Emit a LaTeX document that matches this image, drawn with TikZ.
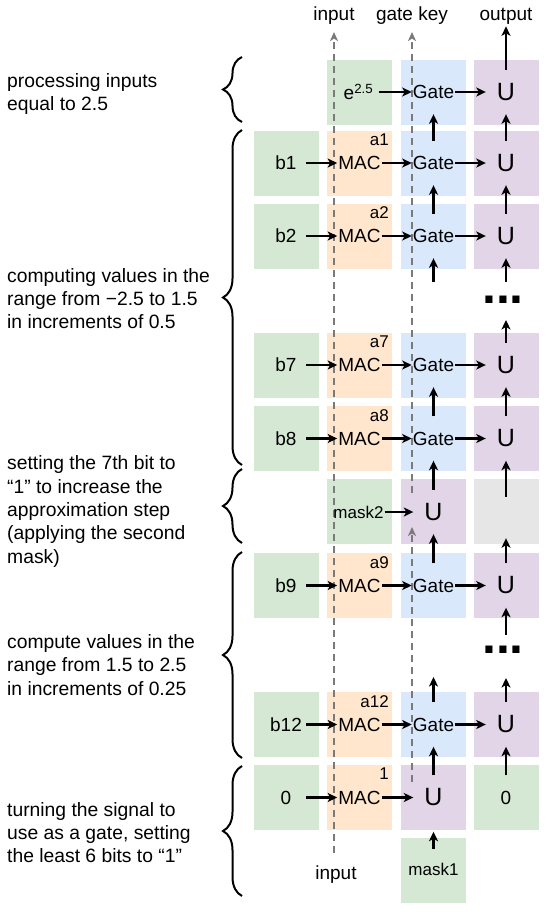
\documentclass[tikz,border=0pt]{standalone}
\usepackage{fontspec}
\setmainfont{Liberation Sans}
\usetikzlibrary{arrows.meta,calc,positioning,decorations.pathreplacing}
\definecolor{CellGreen}{HTML}{D5E8D4}
\definecolor{CellOrange}{HTML}{FFE6CC}
\definecolor{CellBlue}{HTML}{DAE8FC}
\definecolor{CellPurple}{HTML}{E1D5E7}
\definecolor{CellGray}{HTML}{E6E6E6}
\definecolor{KeyGray}{HTML}{7A7A7A}

\begin{document}
\begin{tikzpicture}[x=1pt,y=-1pt,>={Stealth[length=9.5pt,width=9pt,inset=2.5pt]},
  cell/.style={minimum width=65pt,minimum height=65pt,inner sep=0pt},
  txt/.style={minimum width=40pt,minimum height=44pt,inner sep=1pt,font=\fontsize{19}{23}\selectfont},
  ucup/.style={txt,font=\fontsize{25}{25}\selectfont},
  small/.style={inner sep=1pt,font=\fontsize{17}{20}\selectfont},
  idx/.style={small,anchor=north east},
  head/.style={inner sep=2pt,font=\fontsize{19}{23}\selectfont},
  note/.style={anchor=west,align=left,inner sep=0pt,font=\fontsize{19.3}{23.3}\selectfont},
  flow/.style={->,line width=2.2pt},
  keyline/.style={-{Stealth[length=9pt,width=8pt,inset=2.5pt]},KeyGray,line width=2pt,dash pattern=on 7pt off 5pt},
  brc/.style={decorate,decoration={brace,amplitude=19pt},line width=2pt}]
  \useasboundingbox (0,0) rectangle (550,914);

  % cells
  \foreach \n/\y in {1/163,2/236,7/365,8/438.5,9/585.5,12/724.5}{
    \node[cell,fill=CellGreen]  (bx\n) at (286,\y) {};
    \node[cell,fill=CellOrange] (mx\n) at (359.5,\y) {};
    \node[cell,fill=CellBlue]   (gx\n) at (433.5,\y) {};
    \node[cell,fill=CellPurple] (ux\n) at (506,\y) {};
  }
  \node[cell,fill=CellGreen]  (ex0) at (359.5,92) {};
  \node[cell,fill=CellBlue]   (gx0) at (433.5,92) {};
  \node[cell,fill=CellPurple] (ux0) at (506,92) {};
  \node[cell,fill=CellGreen]  (kx2) at (359.5,511.5) {};
  \node[cell,fill=CellPurple] (mux) at (433.5,511.5) {};
  \node[cell,fill=CellGray]   (grx) at (506,511.5) {};
  \node[cell,fill=CellGreen]  (zbx) at (286,797.5) {};
  \node[cell,fill=CellOrange] (zmx) at (359.5,797.5) {};
  \node[cell,fill=CellPurple] (zux) at (433.5,797.5) {};
  \node[cell,fill=CellGreen]  (zzx) at (506,797.5) {};
  \node[cell,fill=CellGreen]  (kx1) at (433.5,870.5) {};

  % headings and key lines
  \node[head] (input) at (334,16) {input};
  \node[head] (gatekey) at (412,16) {gate key};
  \node[head] (output) at (506,16) {output};
  \node[head] (inputB) at (336,875) {input};
  \coordinate (inBot) at (334,853);
  \coordinate (keyMid) at (412,493);
  \coordinate (keyLow) at (412,782);
  \coordinate (keyTip) at (412,527);
  \draw[keyline,shorten >=5pt] (inBot) -- (input);
  \draw[keyline,shorten >=5pt] (keyMid) -- (gatekey);
  \draw[keyline] (keyLow) -- (keyTip);

  % MAC rows
  \foreach \n/\y in {1/163,2/236,7/365,8/438.5,9/585.5,12/724.5}{
    \node[txt] (b\n) at (286,\y) {b\n};
    \node[txt] (mac\n) at (359.5,\y) {MAC};
    \node[txt] (gate\n) at (433.5,\y) {Gate};
    \node[ucup] (u\n) at (506,\y) {U};
    \node[idx] (a\n) at (390,\y-30.5) {a\n};
    \draw[flow] (b\n) -- (mac\n);
    \draw[flow] (mac\n) -- (gate\n);
    \draw[flow] (gate\n) -- (u\n);
  }

  % first row, e^2.5
  \node[txt] (e0) at (358.5,92) {e\textsuperscript{2.5}};
  \node[txt] (gate0) at (433.5,92) {Gate};
  \node[ucup] (u0) at (506,92) {U};
  \draw[flow] (e0) -- (gate0);
  \draw[flow] (gate0) -- (u0);
  \draw[flow] (u0) -- (output);

  % second mask row
  \node[small,minimum width=40pt] (mask2) at (358.5,512) {mask2};
  \node[ucup] (mu) at (433.5,512) {U};
  \node[minimum width=40pt,minimum height=41pt,inner sep=0pt] (gray) at (506,517.5) {};
  \draw[flow] (mask2) -- (mu);

  % zero row and first mask
  \node[txt] (z0) at (286,797.5) {0};
  \node[txt] (mz) at (359.5,797.5) {MAC};
  \node[idx] (one) at (390,767) {1};
  \node[ucup] (zu) at (433.5,797.5) {U};
  \node[txt] (zz) at (506,797.5) {0};
  \node[small,minimum width=40pt,minimum height=40pt] (mask1) at (433.5,869) {mask1};
  \draw[flow] (z0) -- (mz);
  \draw[flow] (mz) -- (zu);

  % dots
  \node[font=\fontsize{50}{50}\selectfont\bfseries,inner sep=0pt] (dots1) at (503,300) {...};
  \node[font=\fontsize{50}{50}\selectfont\bfseries,inner sep=0pt] (dots2) at (503,650) {...};

  % upward links
  \coordinate (gin2) at (433.5,282);
  \coordinate (uin2) at (506,282);
  \coordinate (uout7) at (506,320);
  \coordinate (uin9) at (506,635);
  \coordinate (gout12) at (433.5,677);
  \coordinate (uout12) at (506,678);
  \foreach \a/\b in {1/0,2/1,8/7}{
    \draw[flow] (gate\a) -- (gate\b);
    \draw[flow] (u\a) -- (u\b);
  }
  \draw[flow] (gin2) -- (gate2);
  \draw[flow] (uin2) -- (u2);
  \draw[flow] (u7) -- (uout7);
  \draw[flow] (mu) -- (gate8);
  \draw[flow] (gate9) -- (mu);
  \draw[flow] (gray) -- (u8);
  \draw[flow] (u9) -- (gray);
  \draw[flow] (uin9) -- (u9);
  \draw[flow] (gate12) -- (gout12);
  \draw[flow] (u12) -- (uout12);
  \draw[flow] (zu) -- (gate12);
  \draw[flow] (zz) -- (u12);
  \draw[flow,shorten >=12pt] (mask1) -- (zu);

  % braces and notes
  \draw[brc] (242,122) -- (242,57);
  \draw[brc] (242,465) -- (242,130);
  \draw[brc] (242,543) -- (242,469);
  \draw[brc] (242,758) -- (242,552);
  \draw[brc] (242,896) -- (242,766);
  \node[note] (n1) at (7,94) {processing inputs\\equal to 2.5};
  \node[note] (n2) at (7,298.5) {computing values in the\\range from −2.5 to 1.5\\in increments of 0.5};
  \node[note] (n3) at (7,511.5) {setting the 7th bit to\\“1” to increase the\\approximation step\\(applying the second\\mask)};
  \node[note] (n4) at (7,665) {compute values in the\\range from 1.5 to 2.5\\in increments of 0.25};
  \node[note] (n5) at (7,832.5) {turning the signal to\\use as a gate, setting\\the least 6 bits to “1”};
\end{tikzpicture}
\end{document}
